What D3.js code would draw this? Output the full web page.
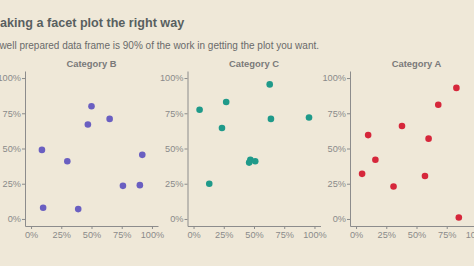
<!DOCTYPE html>
<html lang="en">
<head>
  <meta charset="UTF-8">
  <title>Facet plot</title>
  <style>
    body { margin: 0; background: #efe8d8; }
    svg { display: block; font-family: "Liberation Sans", Arial, sans-serif; }
    .axis path, .axis line { stroke: #8c8c8c; }
    .axis text { fill: #8a8a8a; font-size: 9.2px; }
  </style>
</head>
<body>
  <svg id="chart" width="474" height="266"></svg>

  <script src="https://d3js.org/d3.v7.min.js"></script>
  <script>
    // data, one array per facet, values in 0..1
    const categories = ["Category B", "Category C", "Category A"];
    const colors = ["#6a5fc1", "#1f9a8a", "#d6273b"];

    const bX = [0.09, 0.50, 0.47, 0.65, 0.30, 0.92, 0.76, 0.90, 0.10, 0.39];
    const bY = [0.49, 0.80, 0.67, 0.71, 0.41, 0.455, 0.235, 0.24, 0.08, 0.07];

    const cX = [0.05, 0.27, 0.63, 0.235, 0.64, 0.955, 0.47, 0.46, 0.51, 0.13];
    const cY = [0.775, 0.83, 0.955, 0.645, 0.71, 0.72, 0.42, 0.40, 0.41, 0.25];

    const aX = [0.83, 0.68, 0.38, 0.10, 0.60, 0.16, 0.05, 0.57, 0.31, 0.85];
    const aY = [0.93, 0.81, 0.66, 0.595, 0.57, 0.42, 0.32, 0.305, 0.23, 0.01];

    const xs = [bX, cX, aX];
    const ys = [bY, cY, aY];

    const tickValues = [0, 0.25, 0.5, 0.75, 1];

    const svg = d3.select("#chart");
    const pct = d3.format(".0%");

    // title block (left part is cut off in the original framing)
    svg.append("text")
      .attr("x", -10.4).attr("y", 27)
      .attr("font-size", 12.6).attr("font-weight", "bold")
      .attr("fill", "#586060")
      .text("Making a facet plot the right way");

    svg.append("text")
      .attr("x", -9.5).attr("y", 48.5)
      .attr("font-size", 10)
      .attr("fill", "#6a6a6a")
      .text("A well prepared data frame is 90% of the work in getting the plot you want.");

    const panelW = 133, panelTop = 71, panelBottom = 226;
    const panelLeft = [25, 187.5, 350];

    categories.forEach((cat, i) => {
      const x = d3.scaleLinear().domain([-0.05, 1.05]).range([panelLeft[i], panelLeft[i] + panelW]);
      const y = d3.scaleLinear().domain([-0.05, 1.05]).range([panelBottom, panelTop]);

      const g = svg.append("g");

      g.append("text")
        .attr("x", panelLeft[i] + panelW / 2).attr("y", 67)
        .attr("text-anchor", "middle")
        .attr("font-size", 9.4).attr("font-weight", "bold")
        .attr("fill", "#7a7a7a")
        .text(cat);

      g.append("g").attr("class", "axis")
        .attr("transform", `translate(0,${panelBottom})`)
        .call(d3.axisBottom(x).tickValues(tickValues).tickFormat(pct).tickSize(3).tickPadding(2).tickSizeOuter(0));

      g.append("g").attr("class", "axis")
        .attr("transform", `translate(${panelLeft[i]},0)`)
        .call(d3.axisLeft(y).tickValues(tickValues).tickFormat(pct).tickSize(3).tickPadding(1).tickSizeOuter(0));

      g.selectAll("circle")
        .data(d3.range(xs[i].length))
        .enter()
        .append("circle")
        .attr("cx", d => x(xs[i][d]))
        .attr("cy", d => y(ys[i][d]))
        .attr("r", 3.3)
        .attr("fill", colors[i]);
    });
  </script>
</body>
</html>
